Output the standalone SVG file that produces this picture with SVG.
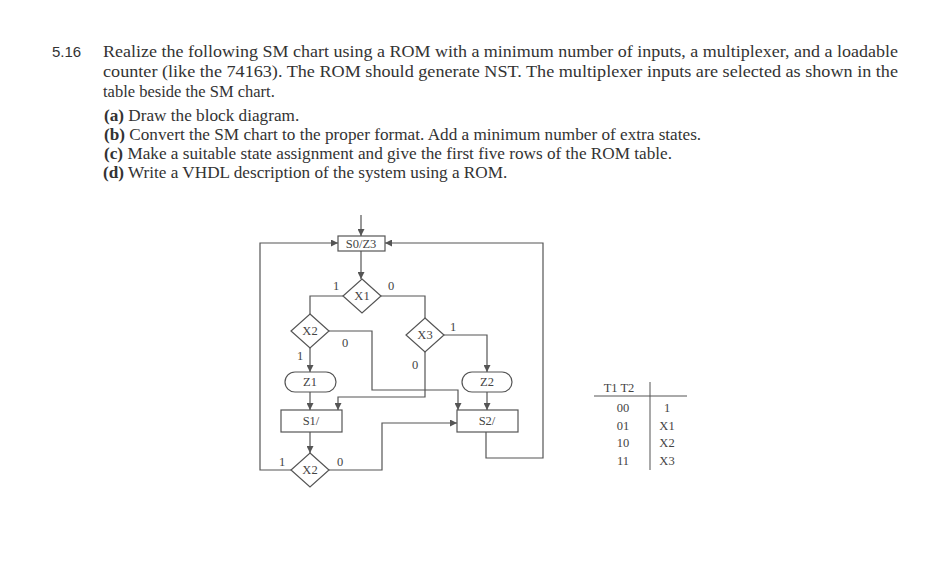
<svg xmlns="http://www.w3.org/2000/svg" width="943" height="565" viewBox="0 0 943 565">
<defs>
<marker id="ah" viewBox="0 0 10 10" refX="10" refY="5" markerWidth="9" markerHeight="7" markerUnits="userSpaceOnUse" orient="auto"><path d="M0,0 L10,5 L0,10 z" fill="#555"/></marker>
<style>
.t{font-family:"Liberation Serif",serif;font-size:16.5px;fill:#333}
.i{font-size:17.2px}
.b{font-weight:bold}
.s{font-family:"Liberation Serif",serif;font-size:12.5px;fill:#444;text-anchor:middle}
.n{fill:#fff;stroke:#555;stroke-width:1.2}
.c{fill:none;stroke:#555;stroke-width:1.2;marker-end:url(#ah)}
.l{fill:none;stroke:#555;stroke-width:1.2}
</style>
</defs>
<rect width="943" height="565" fill="#fff"/>
<g id="text">
<text x="52" y="57" class="t" style="font-family:'Liberation Sans',sans-serif;font-size:15px">5.16</text>
<text x="103" y="57" class="t" textLength="795" lengthAdjust="spacingAndGlyphs">Realize the following SM chart using a ROM with a minimum number of inputs, a multiplexer, and a loadable</text>
<text x="103" y="77" class="t" textLength="795" lengthAdjust="spacingAndGlyphs">counter (like the 74163). The ROM should generate NST. The multiplexer inputs are selected as shown in the</text>
<text x="103" y="97" class="t">table beside the SM chart.</text>
<text x="104" y="121" class="t i"><tspan class="b">(a)</tspan> Draw the block diagram.</text>
<text x="104" y="140" class="t i"><tspan class="b">(b)</tspan> Convert the SM chart to the proper format. Add a minimum number of extra states.</text>
<text x="104" y="159" class="t i"><tspan class="b">(c)</tspan> Make a suitable state assignment and give the first five rows of the ROM table.</text>
<text x="103" y="178" class="t i"><tspan class="b">(d)</tspan> Write a VHDL description of the system using a ROM.</text>
</g>
<g id="connectors">
<path class="c" d="M361,215 V236"/>
<path class="c" d="M361,251 V279"/>
<path class="l" d="M343,296 H310 V314"/>
<path class="c" d="M310,348 V372"/>
<path class="c" d="M310,392 V410"/>
<path class="c" d="M329,331 H372 V390 H458 V410"/>
<path class="l" d="M381,296 H425 V318"/>
<path class="c" d="M444,335 H487 V372"/>
<path class="c" d="M487,392 V410"/>
<path class="c" d="M425,352 V397 H338 V410"/>
<path class="c" d="M310,432 V453"/>
<path class="c" d="M291,470 H260 V243 H338"/>
<path class="c" d="M329,470 H382 V423 H457"/>
<path class="c" d="M486,432 V458 H543 V243 H385"/>
</g>
<g id="S0"><rect class="n" x="338" y="236" width="47" height="15"/><text class="s" x="361" y="248">S0/Z3</text></g>
<g id="X1top"><path class="n" d="M362,279 L381,296 L362,313 L343,296 Z"/><text class="s" x="362" y="300">X1</text><text class="s" x="336" y="290">1</text><text class="s" x="391" y="290">0</text></g>
<g id="X2top"><path class="n" d="M310,314 L329,331 L310,348 L291,331 Z"/><text class="s" x="310" y="335">X2</text><text class="s" x="345" y="347">0</text><text class="s" x="300" y="360">1</text></g>
<g id="X3"><path class="n" d="M425,318 L444,335 L425,352 L406,335 Z"/><text class="s" x="425" y="339">X3</text><text class="s" x="453" y="331">1</text><text class="s" x="415" y="369">0</text></g>
<g id="Z1"><rect class="n" x="285" y="372" width="51" height="20" rx="10"/><text class="s" x="310" y="386">Z1</text></g>
<g id="Z2"><rect class="n" x="462" y="372" width="50" height="20" rx="10"/><text class="s" x="487" y="386">Z2</text></g>
<g id="S1"><rect class="n" x="281" y="410" width="61" height="22"/><text class="s" x="311" y="425">S1/</text></g>
<g id="S2"><rect class="n" x="457" y="410" width="61" height="22"/><text class="s" x="487" y="425">S2/</text></g>
<g id="X2bot"><path class="n" d="M310,453 L329,470 L310,487 L291,470 Z"/><text class="s" x="310" y="474">X2</text><text class="s" x="282" y="466">1</text><text class="s" x="340" y="466">0</text></g>
<g id="table">
<text class="s" x="619" y="392">T1 T2</text>
<path class="l" d="M594,396 H687 M650,382 V470" style="stroke-width:1"/>
<text class="s" x="623" y="412">00</text><text class="s" x="667" y="412">1</text>
<text class="s" x="623" y="430">01</text><text class="s" x="667" y="430">X1</text>
<text class="s" x="623" y="447">10</text><text class="s" x="667" y="447">X2</text>
<text class="s" x="623" y="465">11</text><text class="s" x="667" y="465">X3</text>
</g>
</svg>
